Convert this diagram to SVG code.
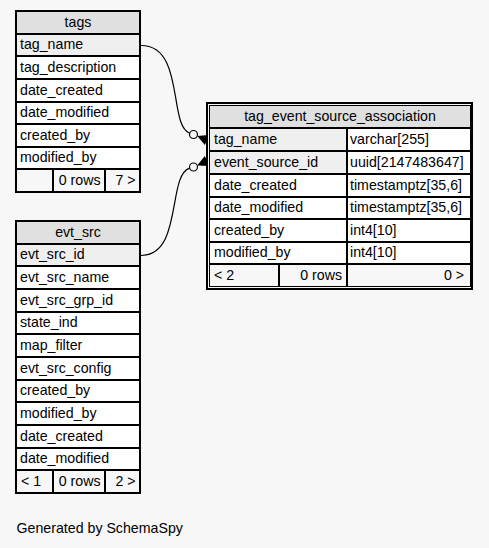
<svg xmlns="http://www.w3.org/2000/svg" width="489" height="548" viewBox="0 0 489 548">
<style>
text{font-family:"Liberation Sans",Arial,Helvetica,sans-serif;font-size:14.2px;fill:#000}
.c{stroke:#000;stroke-width:1}
.h{fill:#e0e0e0}
.k{fill:#efefef}
.w{fill:#ffffff}
.f{fill:#f7f7f7}
.b{fill:none;stroke:#000;stroke-width:1}
.m{text-anchor:middle}
.e{text-anchor:end}
.edge{fill:none;stroke:#000;stroke-width:1.2}
</style>
<rect x="0" y="0" width="489" height="548" fill="#f7f7f7"/>
<g id="connectors">
<path class="edge" d="M141,45.5 C185,45.5 168,125 189.7,133.2"/>
<circle cx="193.5" cy="134.5" r="4" fill="none" stroke="#000" stroke-width="1.2"/>
<polygon points="197.2,136 204.9,145.1 209.1,134.9" fill="#000"/>
<path class="edge" d="M141,255.5 C183,255.5 167,175 189.7,168.1"/>
<circle cx="193.5" cy="167" r="4" fill="none" stroke="#000" stroke-width="1.2"/>
<polygon points="197.2,165.4 209.2,166 204.8,156" fill="#000"/>
</g>
<g id="tags">
<rect class="c h" x="16.5" y="11.5" width="123" height="22"/>
<rect class="c k" x="16.5" y="34.5" width="123" height="21"/>
<rect class="c w" x="16.5" y="56.5" width="123" height="22"/>
<rect class="c w" x="16.5" y="79.5" width="123" height="22"/>
<rect class="c w" x="16.5" y="102.5" width="123" height="21"/>
<rect class="c w" x="16.5" y="124.5" width="123" height="22"/>
<rect class="c w" x="16.5" y="147.5" width="123" height="21"/>
<rect class="c f" x="16.5" y="169.5" width="36" height="22"/>
<rect class="c f" x="53.5" y="169.5" width="51" height="22"/>
<rect class="c f" x="105.5" y="169.5" width="34" height="22"/>
<rect class="b" x="15.5" y="10.5" width="125" height="182"/>
<text class="m" x="78" y="26.8">tags</text>
<text x="20" y="49.3">tag_name</text>
<text x="20" y="71.8">tag_description</text>
<text x="20" y="94.8">date_created</text>
<text x="20" y="117.3">date_modified</text>
<text x="20" y="139.8">created_by</text>
<text x="20" y="162.3">modified_by</text>
<text class="e" x="100.5" y="184.8">0 rows</text>
<text class="e" x="135.5" y="184.8">7 &gt;</text>
</g>
<g id="evt_src">
<rect class="c h" x="16.5" y="221.5" width="123" height="22"/>
<rect class="c k" x="16.5" y="244.5" width="123" height="21"/>
<rect class="c w" x="16.5" y="266.5" width="123" height="22"/>
<rect class="c w" x="16.5" y="289.5" width="123" height="22"/>
<rect class="c w" x="16.5" y="312.5" width="123" height="21"/>
<rect class="c w" x="16.5" y="334.5" width="123" height="22"/>
<rect class="c w" x="16.5" y="357.5" width="123" height="22"/>
<rect class="c w" x="16.5" y="380.5" width="123" height="21"/>
<rect class="c w" x="16.5" y="402.5" width="123" height="22"/>
<rect class="c w" x="16.5" y="425.5" width="123" height="22"/>
<rect class="c w" x="16.5" y="448.5" width="123" height="21"/>
<rect class="c f" x="16.5" y="470.5" width="36" height="22"/>
<rect class="c f" x="53.5" y="470.5" width="51" height="22"/>
<rect class="c f" x="105.5" y="470.5" width="34" height="22"/>
<rect class="b" x="15.5" y="220.5" width="125" height="273"/>
<text class="m" x="78" y="236.8">evt_src</text>
<text x="20" y="259.3">evt_src_id</text>
<text x="20" y="281.8">evt_src_name</text>
<text x="20" y="304.8">evt_src_grp_id</text>
<text x="20" y="327.3">state_ind</text>
<text x="20" y="349.8">map_filter</text>
<text x="20" y="372.8">evt_src_config</text>
<text x="20" y="395.3">created_by</text>
<text x="20" y="417.8">modified_by</text>
<text x="20" y="440.8">date_created</text>
<text x="20" y="463.3">date_modified</text>
<text x="21" y="485.8">&lt; 1</text>
<text class="e" x="100.5" y="485.8">0 rows</text>
<text class="e" x="135.5" y="485.8">2 &gt;</text>
</g>
<g id="tag_event_source_association">
<rect x="206" y="102" width="268" height="189" fill="#f7f7f7"/>
<rect class="c h" x="209.5" y="105.5" width="261" height="22"/>
<rect class="c k" x="209.5" y="128.5" width="137" height="22"/>
<rect class="c w" x="347.5" y="128.5" width="123" height="22"/>
<rect class="c k" x="209.5" y="151.5" width="137" height="22"/>
<rect class="c w" x="347.5" y="151.5" width="123" height="22"/>
<rect class="c w" x="209.5" y="174.5" width="137" height="22"/>
<rect class="c w" x="347.5" y="174.5" width="123" height="22"/>
<rect class="c w" x="209.5" y="197.5" width="137" height="21"/>
<rect class="c w" x="347.5" y="197.5" width="123" height="21"/>
<rect class="c w" x="209.5" y="219.5" width="137" height="22"/>
<rect class="c w" x="347.5" y="219.5" width="123" height="22"/>
<rect class="c w" x="209.5" y="242.5" width="137" height="21"/>
<rect class="c w" x="347.5" y="242.5" width="123" height="21"/>
<rect class="c f" x="209.5" y="264.5" width="69" height="22"/>
<rect class="c f" x="279.5" y="264.5" width="67" height="22"/>
<rect class="c f" x="347.5" y="264.5" width="123" height="22"/>
<rect x="207" y="103" width="265" height="186" fill="none" stroke="#000" stroke-width="2"/>
<text class="m" x="340" y="120.8">tag_event_source_association</text>
<text x="214" y="143.8">tag_name</text>
<text x="350" y="143.8">varchar[255]</text>
<text x="214" y="166.8">event_source_id</text>
<text x="350" y="166.8">uuid[2147483647]</text>
<text x="214" y="189.8">date_created</text>
<text x="350" y="189.8">timestamptz[35,6]</text>
<text x="214" y="212.3">date_modified</text>
<text x="350" y="212.3">timestamptz[35,6]</text>
<text x="214" y="234.8">created_by</text>
<text x="350" y="234.8">int4[10]</text>
<text x="214" y="257.3">modified_by</text>
<text x="350" y="257.3">int4[10]</text>
<text x="214" y="279.8">&lt; 2</text>
<text class="e" x="342" y="279.8">0 rows</text>
<text class="e" x="464" y="279.8">0 &gt;</text>
</g>
<text x="16.5" y="533">Generated by SchemaSpy</text>
</svg>
